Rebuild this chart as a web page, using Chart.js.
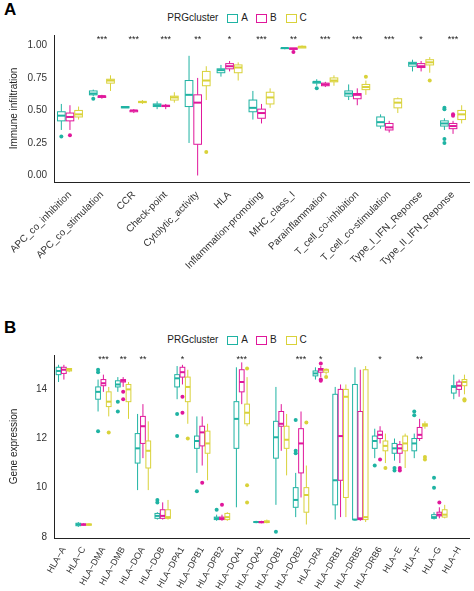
<!DOCTYPE html>
<html>
<head>
<meta charset="utf-8">
<script src="https://cdn.jsdelivr.net/npm/chart.js@4"></script>
<style>
  body { margin: 0; width: 474px; height: 591px; background: #fff; font-family: "Liberation Sans", Arial, sans-serif; position: relative; overflow: hidden; }
  .letter { position: absolute; left: 4px; font-weight: bold; font-size: 17px; }
  .legend { position: absolute; left: 0; width: 474px; text-align: center; font-size: 10px; color: #222; }
  .legend span.sw { display: inline-block; width: 9px; height: 7px; border: 1.5px solid; margin: 0 3px 0 6px; vertical-align: middle; }
  .wrap { position: absolute; left: 0; width: 474px; }
</style>
</head>
<body>
<div class="letter" style="top:0">A</div>
<div class="legend" style="top:12px">PRGcluster <span class="sw" style="border-color:#1fb3a3"></span>A <span class="sw" style="border-color:#e0179b"></span>B <span class="sw" style="border-color:#d9d23a"></span>C</div>
<div class="wrap" style="top:26px;height:270px"><canvas id="chartA"></canvas></div>
<div class="letter" style="top:318px">B</div>
<div class="legend" style="top:334px">PRGcluster <span class="sw" style="border-color:#1fb3a3"></span>A <span class="sw" style="border-color:#e0179b"></span>B <span class="sw" style="border-color:#d9d23a"></span>C</div>
<div class="wrap" style="top:346px;height:245px"><canvas id="chartB"></canvas></div>
<script>
const colors = ['#1fb3a3', '#e0179b', '#d9d23a'];

// Panel A: [min, q1, median, q3, max]
const catsA = ['APC_co_inhibition', 'APC_co_stimulation', 'CCR', 'Check-point', 'Cytolytic_activity', 'HLA',
  'Inflammation-promoting', 'MHC_class_I', 'Parainflammation', 'T_cell_co-inhibition', 'T_cell_co-stimulation',
  'Type_I_IFN_Reponse', 'Type_II_IFN_Reponse'];
const starsA = ['', '***', '***', '***', '**', '*', '***', '**', '***', '***', '***', '*', '***'];
const boxA_A = [[0.35,0.42,0.46,0.49,0.55],[0.61,0.62,0.63,0.65,0.66],[0.52,0.52,0.525,0.53,0.53],[0.51,0.53,0.54,0.55,0.57],
  [0.25,0.53,0.62,0.73,0.92],[0.76,0.79,0.81,0.82,0.85],[0.43,0.49,0.52,0.58,0.65],[0.97,0.975,0.98,0.98,0.985],
  [0.69,0.71,0.72,0.72,0.74],[0.58,0.61,0.63,0.65,0.70],[0.36,0.38,0.41,0.45,0.47],[0.80,0.84,0.86,0.87,0.89],[0.35,0.38,0.40,0.42,0.44]];
const boxA_B = [[0.35,0.42,0.45,0.48,0.54],[0.59,0.60,0.61,0.61,0.62],[0.48,0.49,0.50,0.50,0.51],[0.51,0.53,0.535,0.54,0.55],
  [0.0,0.24,0.56,0.62,0.75],[0.80,0.82,0.84,0.86,0.88],[0.40,0.44,0.48,0.51,0.55],[0.96,0.97,0.975,0.98,0.98],
  [0.68,0.69,0.70,0.71,0.72],[0.54,0.59,0.62,0.63,0.67],[0.33,0.35,0.37,0.40,0.42],[0.80,0.83,0.84,0.86,0.88],[0.32,0.36,0.38,0.40,0.42]];
const boxA_C = [[0.43,0.45,0.47,0.50,0.53],[0.65,0.71,0.73,0.74,0.77],[0.55,0.56,0.565,0.57,0.58],[0.56,0.58,0.60,0.61,0.64],
  [0.58,0.69,0.73,0.80,0.84],[0.73,0.79,0.83,0.85,0.87],[0.52,0.55,0.60,0.64,0.67],[0.98,0.98,0.99,0.99,1.0],
  [0.69,0.72,0.73,0.75,0.77],[0.62,0.66,0.68,0.70,0.73],[0.48,0.52,0.56,0.59,0.60],[0.79,0.85,0.87,0.89,0.91],[0.40,0.43,0.47,0.50,0.54]];
const outA_A = [[0.30],[0.59],[],[],[],[],[],[],[0.67],[],[],[],[0.52,0.51,0.28,0.25]];
const outA_B = [[0.31],[],[],[],[],[],[],[0.95],[],[],[],[],[0.47,0.46]];
const outA_C = [[],[],[],[],[0.18],[],[],[],[],[0.76],[],[0.73],[]];

// Panel B
const catsB = ['HLA\u2212A','HLA\u2212C','HLA\u2212DMA','HLA\u2212DMB','HLA\u2212DOA','HLA\u2212DOB','HLA\u2212DPA1','HLA\u2212DPB1',
  'HLA\u2212DPB2','HLA\u2212DQA1','HLA\u2212DQA2','HLA\u2212DQB1','HLA\u2212DQB2','HLA\u2212DRA','HLA\u2212DRB1','HLA\u2212DRB5',
  'HLA\u2212DRB6','HLA\u2212E','HLA\u2212F','HLA\u2212G','HLA\u2212H'];
const starsB = ['', '', '***', '**', '**', '', '*', '', '', '***', '', '', '***', '*', '', '', '*', '', '**', '', ''];
const boxB_A = [[14.3,14.6,14.75,14.9,15.0],[8.4,8.45,8.5,8.55,8.6],[13.1,13.6,13.9,14.1,14.4],[13.9,14.1,14.2,14.35,14.5],
  [9.9,11.0,11.6,12.2,13.0],[8.7,8.75,8.85,8.95,9.0],[13.6,14.1,14.45,14.6,14.95],[10.6,11.6,11.9,12.1,12.9],
  [8.65,8.7,8.75,8.8,8.9],[9.2,11.6,12.8,13.5,14.9],[8.55,8.58,8.6,8.62,8.65],[9.3,11.2,12.05,12.7,14.1],
  [8.8,9.2,9.5,10.0,10.6],[14.4,14.55,14.65,14.75,14.9],[8.7,9.3,10.3,13.8,14.1],[8.65,8.7,8.7,14.2,14.9],
  [11.2,11.6,11.9,12.1,12.4],[11.1,11.4,11.6,11.8,12.0],[11.2,11.5,11.8,12.0,12.2],[8.7,8.75,8.8,8.9,9.0],[13.6,13.85,14.1,14.15,14.6]];
const boxB_B = [[14.4,14.65,14.8,14.9,15.0],[8.45,8.47,8.5,8.52,8.55],[13.9,14.15,14.25,14.4,14.6],[14.1,14.3,14.35,14.4,14.5],
  [11.2,11.8,12.5,12.9,13.4],[8.7,8.75,8.85,9.1,9.4],[14.2,14.5,14.7,14.9,15.0],[10.9,11.7,12.25,12.5,12.9],
  [8.65,8.7,8.75,8.8,8.9],[13.4,13.9,14.3,14.8,15.1],[8.55,8.57,8.6,8.62,8.65],[11.5,12.5,12.6,13.1,13.4],
  [9.6,10.6,11.8,12.4,13.1],[14.5,14.7,14.8,14.85,14.95],[8.8,10.3,12.1,14.0,14.2],[8.65,8.7,8.75,13.1,14.8],
  [11.8,12.0,12.15,12.3,12.5],[11.0,11.4,11.6,11.75,11.9],[11.9,12.0,12.15,12.45,12.8],[8.75,8.85,8.9,9.0,9.2],[13.7,14.0,14.15,14.3,14.4]];
const boxB_C = [[14.7,14.75,14.8,14.85,14.85],[8.45,8.47,8.5,8.52,8.55],[12.9,13.3,13.5,13.9,14.1],[12.8,13.5,14.0,14.2,14.3],
  [9.9,10.8,11.5,11.9,12.7],[8.7,8.75,8.8,9.1,9.5],[12.6,13.5,14.1,14.5,14.8],[10.3,11.4,11.8,12.3,12.6],
  [8.65,8.7,8.8,8.95,9.0],[12.5,12.6,13.05,13.4,14.5],[8.55,8.58,8.6,8.65,8.7],[10.5,11.6,11.95,12.5,13.0],
  [8.5,9.0,9.7,10.0,10.9],[14.6,14.7,14.8,14.8,14.85],[8.8,9.6,13.7,14.0,14.2],[8.6,8.7,8.8,14.8,14.95],
  [11.0,11.5,11.7,11.9,12.2],[10.8,11.5,11.8,12.1,12.2],[12.4,12.5,12.55,12.6,12.7],[8.75,8.8,8.9,9.1,9.3],[13.8,14.15,14.3,14.4,14.6]];
const outB_A = [[],[],[14.8,14.7,12.3],[13.5,13.1],[],[9.5,9.4],[13.0,12.1],[9.85],[9.1],[],[],[8.2],[12.75,11.5,11.4],[],[],[],[10.9],[10.8,10.7],[13.1,12.95],[10.4,10.0],[]];
const outB_B = [[],[],[],[13.9,13.6],[],[],[13.7,13.05],[10.2],[9.3],[],[],[],[],[15.05,14.4,14.35],[],[],[11.15],[10.8,10.7],[],[9.4],[]];
const outB_C = [[],[],[12.25],[],[],[],[12.0],[],[],[14.85,10.1,9.4],[],[],[12.65],[14.5],[],[],[10.8],[],[11.25,11.15],[],[13.6,13.55]];

const boxPlugin = {
  id: 'boxes',
  afterDatasetsDraw(chart) {
    const cfg = chart.options.plugins.boxes;
    const x = chart.scales.x, y = chart.scales.y, ctx = chart.ctx;
    const band = x.width / cfg.cats.length;
    const bw = band * 0.24;
    ctx.save();
    cfg.series.forEach((ser, s) => {
      ctx.strokeStyle = colors[s];
      ser.boxes.forEach((b, i) => {
        const cx = x.getPixelForValue(i) + (s - 1) * band * 0.27;
        const [mn, q1, md, q3, mx] = b.map(v => y.getPixelForValue(v));
        ctx.lineWidth = 1;
        ctx.beginPath();
        ctx.moveTo(cx, mn); ctx.lineTo(cx, q1);
        ctx.moveTo(cx, q3); ctx.lineTo(cx, mx);
        ctx.stroke();
        ctx.fillStyle = '#fff';
        ctx.fillRect(cx - bw / 2, q3, bw, q1 - q3);
        ctx.strokeRect(cx - bw / 2, q3, bw, q1 - q3);
        ctx.lineWidth = 2;
        ctx.beginPath();
        ctx.moveTo(cx - bw / 2, md); ctx.lineTo(cx + bw / 2, md);
        ctx.stroke();
        ctx.fillStyle = colors[s];
        ser.out[i].forEach(v => {
          ctx.beginPath();
          ctx.arc(cx, y.getPixelForValue(v), 2, 0, Math.PI * 2);
          ctx.fill();
        });
      });
    });
    ctx.fillStyle = '#222';
    ctx.font = '9px "Liberation Sans"';
    ctx.textAlign = 'center';
    cfg.stars.forEach((t, i) => {
      if (t) ctx.fillText(t, x.getPixelForValue(i), y.getPixelForValue(cfg.starY) + 3);
    });
    ctx.restore();
  }
};

function makeChart(id, cats, series, stars, yTitle, ymin, ymax, step, starY, rot, xh, fs, fmt) {
  new Chart(document.getElementById(id), {
    type: 'line',
    data: { labels: cats, datasets: [{ data: cats.map(() => null) }] },
    plugins: [boxPlugin],
    options: {
      responsive: true, maintainAspectRatio: false, animation: false,
      layout: { padding: { top: 4, right: 4, left: 4 } },
      plugins: { legend: { display: false }, tooltip: { enabled: false },
        boxes: { cats, series, stars, starY } },
      scales: {
        x: {
          offset: true,
          afterFit: ax => { ax.height = xh; },
          grid: { display: false, offset: false, drawTicks: true, tickLength: 4, tickColor: '#333' },
          border: { color: '#222', width: 1 },
          ticks: { color: '#333', font: { size: fs, family: 'Liberation Sans' }, minRotation: rot, maxRotation: rot, autoSkip: false }
        },
        y: {
          min: ymin, max: ymax,
          afterFit: ax => { ax.width = 50; },
          title: { display: true, text: yTitle, color: '#222', font: { size: 10, family: 'Liberation Sans' } },
          grid: { display: false, drawTicks: true, tickLength: 4, tickColor: '#333' },
          border: { color: '#222', width: 1 },
          afterBuildTicks: ax => { const t = []; for (let v = Math.ceil(ymin / step) * step; v <= ymax + 1e-9; v += step) t.push({ value: +v.toFixed(4) }); ax.ticks = t; },
          ticks: { color: '#333', font: { size: 10, family: 'Liberation Sans' }, callback: fmt }
        }
      }
    }
  });
}

makeChart('chartA', catsA,
  [{ boxes: boxA_A, out: outA_A }, { boxes: boxA_B, out: outA_B }, { boxes: boxA_C, out: outA_C }],
  starsA, 'Immune infiltration', -0.05, 1.08, 0.25, 1.05, 45, 114, 10, v => v.toFixed(2));
makeChart('chartB', catsB,
  [{ boxes: boxB_A, out: outB_A }, { boxes: boxB_B, out: outB_B }, { boxes: boxB_C, out: outB_C }],
  starsB, 'Gene expression', 7.95, 15.4, 2, 15.25, 60, 53, 9, v => v);
</script>
</body>
</html>
